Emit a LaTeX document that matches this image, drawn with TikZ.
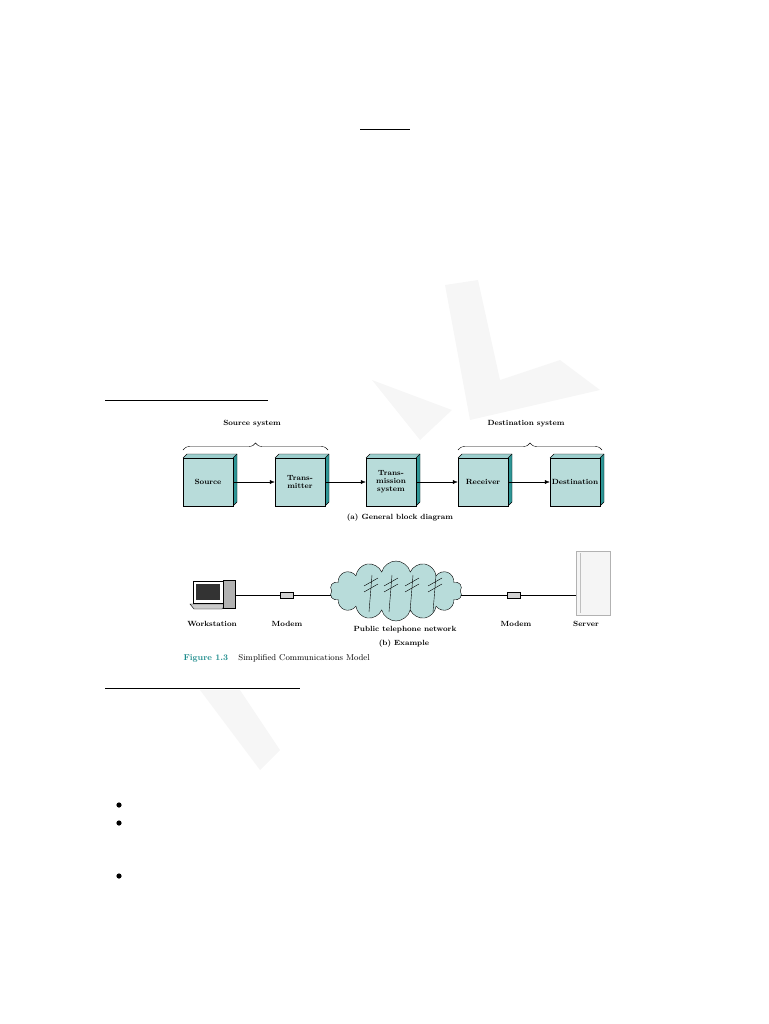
\documentclass[tikz,border=0pt]{standalone}
\usetikzlibrary{shapes.symbols,decorations.pathreplacing,arrows.meta}
\definecolor{boxf}{HTML}{B8DCDA}
\definecolor{boxs}{HTML}{2E9696}
\definecolor{figc}{HTML}{1A8A8A}
\definecolor{wm}{HTML}{F6F6F6}
\begin{document}
\begin{tikzpicture}[x=1pt,y=-1pt,
  blk/.style={draw,fill=boxf,minimum width=50pt,minimum height=48pt,inner sep=1pt,align=center,font=\bfseries\fontsize{7.5}{8}\selectfont},
  lbl/.style={font=\bfseries\fontsize{7.5}{8.5}\selectfont},
  arr/.style={-{Latex[length=5pt,width=4pt]}},
  brc/.style={decorate,decoration={brace,amplitude=7pt}},
  modem/.style={draw,fill=gray!35,minimum width=13pt,minimum height=6pt,inner sep=0},
  wire/.style={line width=0.6pt}]
\useasboundingbox (0,0) rectangle (768,1024);
% watermark
\fill[wm] (372,380) -- (452,410) -- (420,440) -- cycle;
\fill[wm] (445,285) -- (478,280) -- (500,380) -- (560,360) -- (600,390) -- (470,420) -- cycle;
\fill[wm] (200,690) -- (240,690) -- (280,750) -- (260,770) -- cycle;
% page lines
\draw (360,129) -- (410,129);
\draw (105,400) -- (268,400);
\draw (105,688) -- (300,688);
\foreach \y [count=\i] in {805,823,876} \fill (119,\y) circle (2.6);
% blocks
\foreach \n/\x/\t in {src/208/Source,tx/300/Trans-\\mitter,sys/391/Trans-\\mission\\system,rx/483/Receiver,dst/575/Destination}{
  \fill[boxs] (\x+25,458) -- (\x+29,454) -- (\x+29,502) -- (\x+25,506) -- cycle;
  \fill[boxf!80!boxs] (\x-25,458) -- (\x-21,454) -- (\x+29,454) -- (\x+25,458) -- cycle;
  \draw (\x-25,458) -- (\x-21,454) -- (\x+29,454) -- (\x+29,502) -- (\x+25,506);
  \draw (\x+25,458) -- (\x+29,454);
  \node[blk] (\n) at (\x,482) {\t};
}
\draw[arr] (src) -- (tx);
\draw[arr] (tx) -- (sys);
\draw[arr] (sys) -- (rx);
\draw[arr] (rx) -- (dst);
\coordinate (b1) at (183,450); \coordinate (b2) at (328,450);
\coordinate (b3) at (458,450); \coordinate (b4) at (602,450);
\draw[brc] (b1) -- (b2);
\draw[brc] (b3) -- (b4);
\node[lbl] (ls) at (252,424) {Source system};
\node[lbl] (ld) at (526,424) {Destination system};
\node[lbl] (ca) at (400,518) {(a) General block diagram};
% example
\node[cloud,cloud puffs=14,aspect=2.3,draw,fill=boxf,minimum width=132pt,minimum height=60pt,inner sep=0] (cl) at (396,591) {};
\foreach \px in {372,392,413,436}{
  \draw (\px,575) -- (\px-3,612);
  \draw (\px-8,586) -- (\px+6,578);
  \draw (\px-8,592) -- (\px+6,584);
}
% workstation
\fill[black!80] (196,584) rectangle (220,600);
\node[draw,minimum width=30pt,minimum height=22pt,inner sep=0] (ws) at (208,592) {};
\draw[fill=gray!40] (190,604) -- (226,604) -- (222,609) -- (194,609) -- cycle;
\draw[fill=gray!60] (223,580) rectangle (235,608);
\coordinate (wsr) at (235,595);
\node[modem] (m1) at (287,595) {};
\node[modem] (m2) at (514,595) {};
% server
\node[draw=gray!60,fill=gray!8,minimum width=34pt,minimum height=64pt,inner sep=0] (sv) at (593,583) {};
\draw[gray!50] (580,553) -- (580,613);
\draw[wire] (wsr) -- (m1);
\draw[wire] (m1) -- (m1 -| cl.west);
\draw[wire] (m2 -| cl.east) -- (m2);
\draw[wire] (m2) -- (m2 -| sv.west);
\node[lbl] (lw) at (212,624) {Workstation};
\node[lbl] (lm1) at (287,624) {Modem};
\node[lbl] (lp) at (405,630) {Public telephone network};
\node[lbl] (lm2) at (516,624) {Modem};
\node[lbl] (lsv) at (586,624) {Server};
\node[lbl] (cb) at (404,644) {(b) Example};
\node[anchor=west,font=\fontsize{8.5}{9}\selectfont] (fig) at (180,658) {\textcolor{figc}{\textbf{Figure 1.3}}\hspace{1.2em}Simplified Communications Model};
\end{tikzpicture}
\end{document}
